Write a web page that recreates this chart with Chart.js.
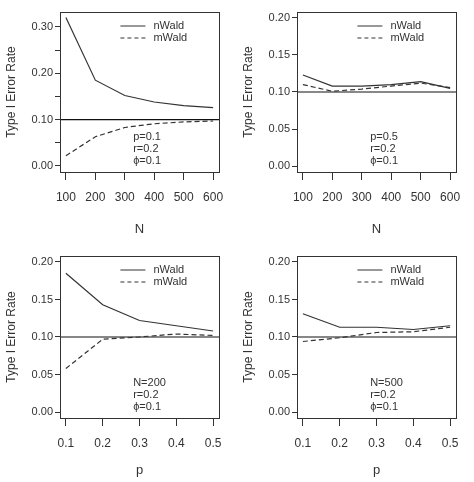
<!DOCTYPE html>
<html><head><meta charset="utf-8">
<script src="https://cdn.jsdelivr.net/npm/chart.js@4"></script>
<style>
body{margin:0;background:#fff;width:474px;height:482px;position:relative;overflow:hidden}
canvas{position:absolute}
</style></head><body>
<canvas id="c1" style="left:0;top:0"></canvas>
<canvas id="c2" style="left:237px;top:0"></canvas>
<canvas id="c3" style="left:0;top:241px"></canvas>
<canvas id="c4" style="left:237px;top:241px"></canvas>
<script>
const nValues = [100, 200, 300, 400, 500, 600];
const pValues = [0.1, 0.2, 0.3, 0.4, 0.5];
const nWald1 = [0.32, 0.185, 0.152, 0.138, 0.13, 0.126];
const mWald1 = [0.022, 0.063, 0.083, 0.091, 0.095, 0.097];
const nWald2 = [0.123, 0.108, 0.108, 0.11, 0.114, 0.105];
const mWald2 = [0.11, 0.101, 0.104, 0.108, 0.112, 0.106];
const nWald3 = [0.185, 0.143, 0.122, 0.115, 0.108];
const mWald3 = [0.058, 0.097, 0.1, 0.104, 0.102];
const nWald4 = [0.131, 0.113, 0.113, 0.11, 0.115];
const mWald4 = [0.094, 0.099, 0.106, 0.107, 0.113];
const yTicks1 = [0, 0.05, 0.1, 0.15, 0.2, 0.25, 0.3];
const yLabels1 = [0, 0.1, 0.2, 0.3];
const yTicks2 = [0, 0.05, 0.1, 0.15, 0.2];
const notes1 = ['p=0.1', 'r=0.2', '\u03d5=0.1'];
const notes2 = ['p=0.5', 'r=0.2', '\u03d5=0.1'];
const notes3 = ['N=200', 'r=0.2', '\u03d5=0.1'];
const notes4 = ['N=500', 'r=0.2', '\u03d5=0.1'];
const refLine = 0.1;

const FONT = '"Liberation Sans", Arial, sans-serif';
const INK = '#333';

const decor = {
  id: 'decor',
  afterDraw(chart) {
    const ctx = chart.ctx, a = chart.chartArea, o = chart.options.plugins.decor;
    ctx.save();
    ctx.strokeStyle = INK; ctx.lineWidth = 1;
    ctx.strokeRect(a.left + 0.5, a.top + 0.5, a.width, a.height);
    // legend
    ctx.font = '11px ' + FONT; ctx.fillStyle = INK; ctx.textBaseline = 'middle';
    const lx = a.left + a.width * 0.38, ly = a.top + 14;
    [['nWald', []], ['mWald', [4, 3]]].forEach((l, i) => {
      ctx.setLineDash(l[1]);
      ctx.beginPath(); ctx.moveTo(lx, ly + i * 12); ctx.lineTo(lx + 25, ly + i * 12); ctx.stroke();
      ctx.fillText(l[0], lx + 33, ly + i * 12);
    });
    ctx.setLineDash([]);
    const nx = a.left + a.width * 0.46, ny = a.bottom - 35;
    o.notes.forEach((t, i) => ctx.fillText(t, nx, ny + i * 12));
    ctx.restore();
  }
};

function panel(id, xs, xticks, xmin, xmax, xtitle, nw, mw, ymin, ymax, yticks, ylabels, notes, padTop, xh) {
  const toPts = v => v.map((y, i) => ({x: xs[i], y}));
  new Chart(document.getElementById(id), {
    type: 'line',
    data: {datasets: [
      {data: toPts(nw), borderColor: INK, borderWidth: 1.2, pointRadius: 0, tension: 0},
      {data: toPts(mw), borderColor: INK, borderWidth: 1.2, borderDash: [5, 3], pointRadius: 0, tension: 0},
      {data: [{x: xmin, y: refLine}, {x: xmax, y: refLine}], borderColor: '#111', borderWidth: 1.2, pointRadius: 0}
    ]},
    options: {
      responsive: false, animation: false,
      layout: {padding: {top: padTop, right: 18, left: 0, bottom: 0}},
      plugins: {legend: {display: false}, tooltip: {enabled: false}, decor: {notes}},
      scales: {
        x: {type: 'linear', min: xmin, max: xmax,
          afterBuildTicks: s => { s.ticks = xticks.map(v => ({value: v})); },
          afterFit: s => { s.height = xh; },
          border: {display: false},
          grid: {drawOnChartArea: false, tickLength: 8, color: INK},
          ticks: {color: INK, font: {family: FONT, size: 12}, maxRotation: 0, padding: 10},
          title: {display: true, text: xtitle, color: INK, font: {family: FONT, size: 13}, padding: {top: 8}}},
        y: {min: ymin, max: ymax,
          afterBuildTicks: s => { s.ticks = yticks.map(v => ({value: v})); },
          afterFit: s => { s.width = 60; },
          border: {display: false},
          grid: {drawOnChartArea: false, tickLength: 5, color: INK},
          ticks: {color: INK, font: {family: FONT, size: 11}, padding: 2,
            callback: v => ylabels.some(l => Math.abs(l - v) < 1e-9) ? v.toFixed(2) : ''},
          title: {display: true, text: 'Type I Error Rate', color: INK, font: {family: FONT, size: 12}, padding: {bottom: 2}}}
      }
    },
    plugins: [decor]
  });
}
['c1','c2','c3','c4'].forEach(id => { const c = document.getElementById(id); c.width = 237; c.height = 241; });
panel('c1', nValues, nValues, 80, 620, 'N', nWald1, mWald1, -0.013, 0.332, yTicks1, yLabels1, notes1, 12, 69);
panel('c2', nValues, nValues, 80, 620, 'N', nWald2, mWald2, -0.008, 0.208, yTicks2, yTicks2, notes2, 12, 69);
panel('c3', pValues, pValues, 0.084, 0.516, 'p', nWald3, mWald3, -0.008, 0.208, yTicks2, yTicks2, notes3, 15, 64);
panel('c4', pValues, pValues, 0.084, 0.516, 'p', nWald4, mWald4, -0.008, 0.208, yTicks2, yTicks2, notes4, 15, 64);
</script></body></html>
